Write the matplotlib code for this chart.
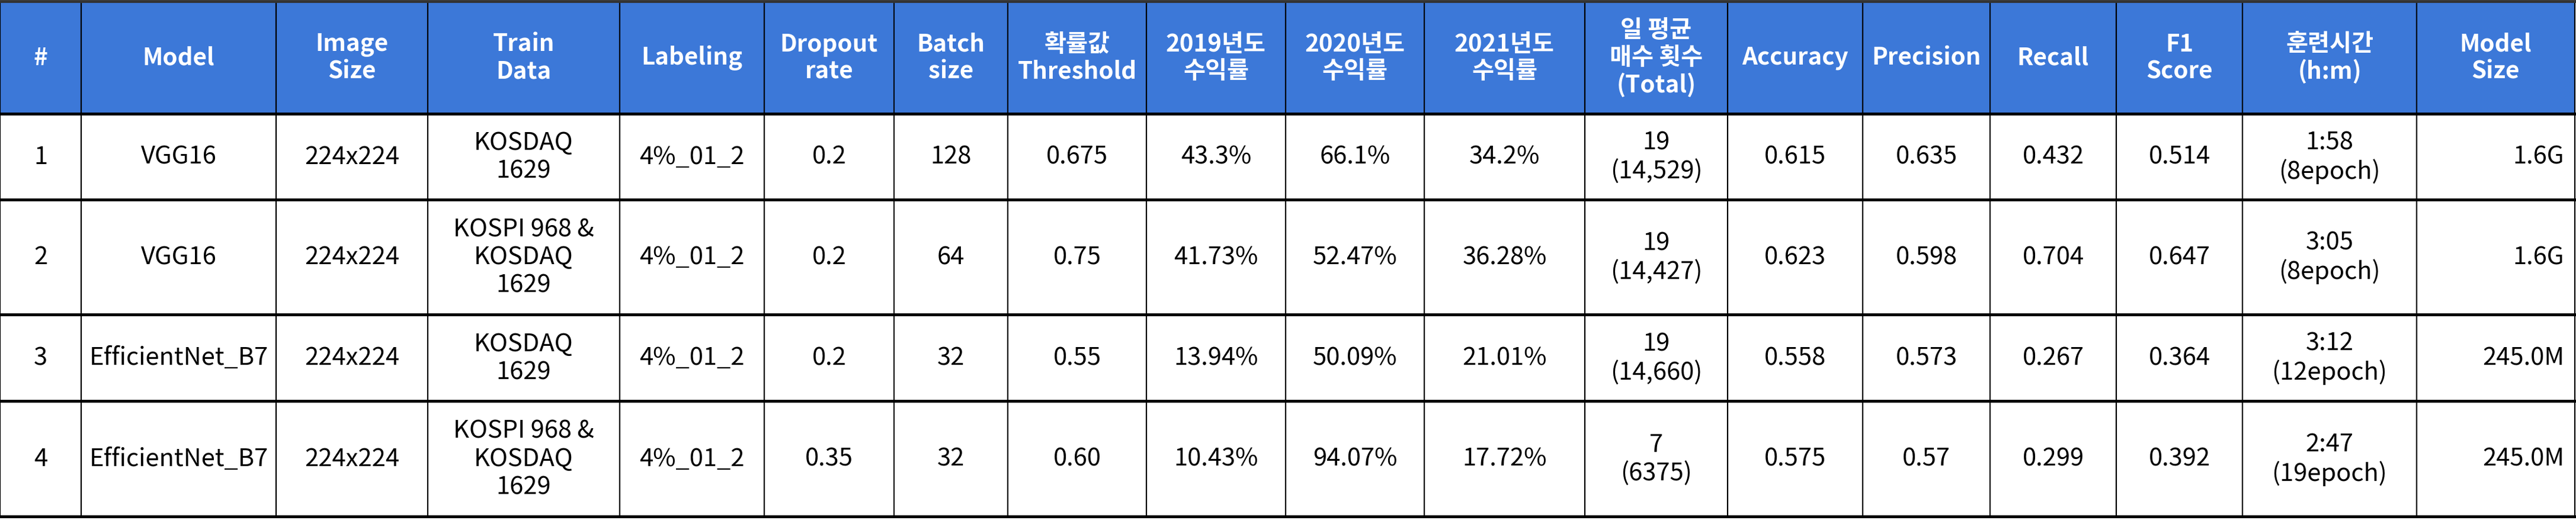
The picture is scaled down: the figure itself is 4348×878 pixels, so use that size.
#!/usr/bin/env python3

import matplotlib.pyplot as plt
from matplotlib.patches import Rectangle

FONT = ['Liberation Sans Narrow', 'Noto Sans CJK KR', 'DejaVu Sans']

HEADERS = ['#', 'Model', 'Image\nSize', 'Train\nData', 'Labeling', 'Dropout\nrate',
           'Batch\nsize', '확률값\nThreshold', '2019년도\n수익률', '2020년도\n수익률',
           '2021년도\n수익률', '일 평균\n매수 횟수\n(Total)', 'Accuracy', 'Precision',
           'Recall', 'F1\nScore', '훈련시간\n(h:m)', 'Model\nSize']

ids = ['1', '2', '3', '4']
models = ['VGG16', 'VGG16', 'EfficientNet_B7', 'EfficientNet_B7']
image_size = ['224x224'] * 4
train_data = ['KOSDAQ\n1629', 'KOSPI 968 &\nKOSDAQ\n1629', 'KOSDAQ\n1629', 'KOSPI 968 &\nKOSDAQ\n1629']
labeling = ['4%_01_2'] * 4
dropout = ['0.2', '0.2', '0.2', '0.35']
batch = ['128', '64', '32', '32']
threshold = ['0.675', '0.75', '0.55', '0.60']
ret_2019 = ['43.3%', '41.73%', '13.94%', '10.43%']
ret_2020 = ['66.1%', '52.47%', '50.09%', '94.07%']
ret_2021 = ['34.2%', '36.28%', '21.01%', '17.72%']
trades = ['19\n(14,529)', '19\n(14,427)', '19\n(14,660)', '7\n(6375)']
accuracy = ['0.615', '0.623', '0.558', '0.575']
precision = ['0.635', '0.598', '0.573', '0.57']
recall = ['0.432', '0.704', '0.267', '0.299']
f1 = ['0.514', '0.647', '0.364', '0.392']
train_time = ['1:58\n(8epoch)', '3:05\n(8epoch)', '3:12\n(12epoch)', '2:47\n(19epoch)']
model_size = ['1.6G', '1.6G', '245.0M', '245.0M']

columns = [ids, models, image_size, train_data, labeling, dropout, batch, threshold,
           ret_2019, ret_2020, ret_2021, trades, accuracy, precision, recall, f1,
           train_time, model_size]

# layout in pixels
col_edges = [0, 137, 466, 722, 1046, 1290, 1509, 1701, 1935, 2170, 2404, 2675,
             2916, 3144, 3359, 3572, 3785, 4079, 4346]
row_edges = [3, 193, 338, 532, 678, 873]
W, H = 4348, 879

fig = plt.figure(figsize=(W / 100, H / 100), dpi=100)
ax = fig.add_axes([0, 0, 1, 1])
ax.set_xlim(0, W)
ax.set_ylim(H, 0)
ax.axis('off')

ax.add_patch(Rectangle((col_edges[0], row_edges[0]), col_edges[-1] - col_edges[0],
                       row_edges[1] - row_edges[0], facecolor='#3c78d8', edgecolor='none'))

for j, head in enumerate(HEADERS):
    cx = (col_edges[j] + col_edges[j + 1]) / 2
    cy = (row_edges[0] + row_edges[1]) / 2
    ax.text(cx, cy, head, ha='center', va='center', color='white', fontsize=29,
            family=FONT, weight='bold', linespacing=1.15)

for j, col in enumerate(columns):
    for i, val in enumerate(col):
        cy = (row_edges[i + 1] + row_edges[i + 2]) / 2
        if j == len(columns) - 1:
            ax.text(col_edges[j + 1] - 18, cy, val, ha='right', va='center', fontsize=30,
                    family=FONT, linespacing=1.2)
        else:
            cx = (col_edges[j] + col_edges[j + 1]) / 2
            ax.text(cx, cy, val, ha='center', va='center', fontsize=30,
                    family=FONT, linespacing=1.2)

for x in col_edges:
    ax.plot([x, x], [row_edges[0], row_edges[-1]], color='black', lw=1.6)
for k, y in enumerate(row_edges):
    ax.plot([0, W], [y, y], color='#333333' if k == 0 else 'black', lw=3.5)

fig.savefig('out.png', dpi=100)
